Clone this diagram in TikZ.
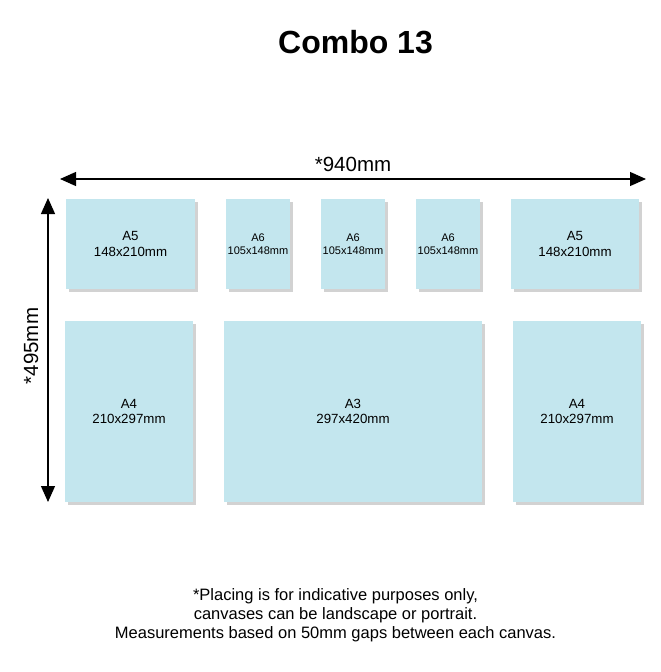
\documentclass[tikz,border=0pt]{standalone}
\usepackage{fontspec}
\setmainfont{Liberation Sans}
\usetikzlibrary{arrows.meta}
\definecolor{canvasblue}{HTML}{C3E6EE}
\definecolor{shadowgrey}{HTML}{D2D2D2}
\tikzset{
  canvas/.style={fill=canvasblue, draw=none, inner sep=0pt, align=center,
    font=\fontsize{13.3}{15.5}\selectfont,
    preaction={fill=shadowgrey, transform canvas={shift={(3pt,-3pt)}}}},
  small/.style={font=\fontsize{11}{13}\selectfont},
  dimarrow/.style={line width=1.2pt, {Triangle[length=16pt,width=14pt]}-{Triangle[length=16pt,width=14pt]}},
  dimlabel/.style={font=\fontsize{20.5}{24}\selectfont, inner sep=0pt},
  note/.style={font=\fontsize{16.5}{19}\selectfont, align=center, inner sep=0pt}
}
\begin{document}
\begin{tikzpicture}[x=1pt,y=-1pt]
\useasboundingbox[fill=white] (0,0) rectangle (661,672);
\node[font=\bfseries\fontsize{32}{36}\selectfont, inner sep=0pt] (title) at (355.5,42) {Combo 13};

% top row
\node[canvas, minimum width=129pt, minimum height=90pt] (a5l) at (130.5,244) {A5\\148x210mm};
\node[canvas, small, minimum width=64pt, minimum height=90pt] (a6a) at (258,244) {A6\\105x148mm};
\node[canvas, small, minimum width=64pt, minimum height=90pt] (a6b) at (353,244) {A6\\105x148mm};
\node[canvas, small, minimum width=64pt, minimum height=90pt] (a6c) at (448,244) {A6\\105x148mm};
\node[canvas, minimum width=128pt, minimum height=90pt] (a5r) at (575,244) {A5\\148x210mm};
% bottom row
\node[canvas, minimum width=128pt, minimum height=181pt] (a4l) at (129,411.5) {A4\\210x297mm};
\node[canvas, minimum width=258pt, minimum height=181pt] (a3) at (353,411.5) {A3\\297x420mm};
\node[canvas, minimum width=128pt, minimum height=181pt] (a4r) at (577,411.5) {A4\\210x297mm};

% dimension arrows
\coordinate (hl) at (60,179);
\coordinate (hr) at (646,179);
\draw[dimarrow] (hl) -- (hr);
\node[dimlabel, anchor=base] (w) at (353,171) {*940mm};
\coordinate (vt) at (48,198);
\coordinate (vb) at (48,502);
\draw[dimarrow] (vt) -- (vb);
\node[dimlabel, rotate=90] (h) at (31,346) {*495mm};

\node[note] (notes) at (335.5,615) {*Placing is for indicative purposes only,\\canvases can be landscape or portrait.\\Measurements based on 50mm gaps between each canvas.};
\end{tikzpicture}
\end{document}
